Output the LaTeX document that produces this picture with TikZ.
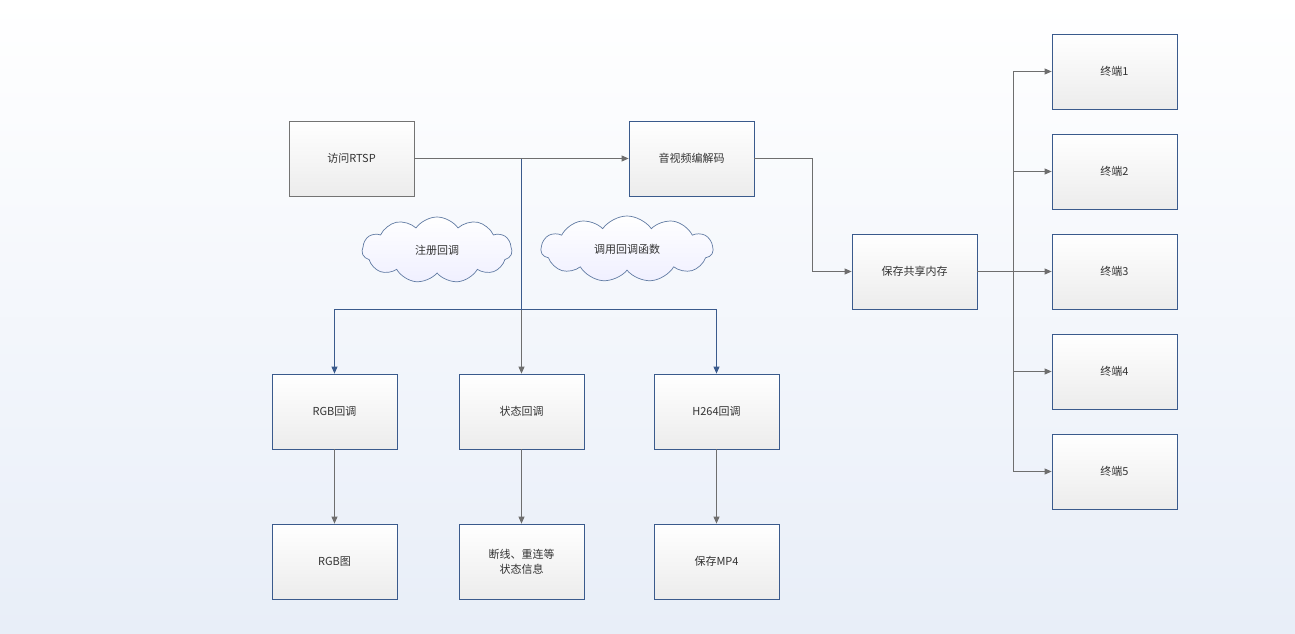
\documentclass[tikz,border=0pt]{standalone}
\usepackage{fontspec}
\setmainfont{Noto Sans CJK SC}
\usetikzlibrary{shapes.symbols,arrows.meta}
\definecolor{bord}{HTML}{3A5A8C}
\definecolor{ln}{HTML}{6E6E6E}
\begin{document}
\begin{tikzpicture}[x=1pt,y=-1pt,
  box/.style={draw=bord,line width=0.8pt,top color=white,bottom color=gray!15,minimum width=125pt,minimum height=75pt,inner sep=0pt,align=center,font=\fontsize{11}{15}\selectfont,text=black!80},
  cl/.style={cloud,cloud puffs=11,cloud puff arc=110,aspect=2.3,draw=bord!80,line width=0.7pt,top color=white,bottom color=blue!6,inner sep=0pt,font=\fontsize{11}{14}\selectfont,text=black!80},
  ar/.style={draw=ln,line width=0.8pt,-{Triangle[length=7pt,width=6pt]}},
  li/.style={draw=ln,line width=0.8pt},
  bl/.style={draw=bord,line width=0.8pt}]
\fill[top color=white,bottom color={rgb,255:red,232;green,238;blue,248}] (0,0) rectangle (1295,633);
\useasboundingbox (0,0) rectangle (1295,633);
\node[box,draw=gray!90!black] (rtsp) at (351.5,158.5) {访问RTSP};
\node[box] (codec) at (691.5,158.5) {音视频编解码};
\node[box] (mem) at (914.5,271.5) {保存共享内存};
\foreach \i/\y in {1/71.5,2/171.5,3/271.5,4/371.5,5/471.5}
  \node[box] (t\i) at (1114.5,\y) {终端\i};
\node[box] (rgb) at (334.5,411.5) {RGB回调};
\node[box] (st) at (521.5,411.5) {状态回调};
\node[box] (h) at (716.5,411.5) {H264回调};
\node[box] (rgbi) at (334.5,561.5) {RGB图};
\node[box] (sti) at (521.5,561.5) {断线、重连等\\状态信息};
\node[box] (mp4) at (716.5,561.5) {保存MP4};
\node[cl,minimum width=150pt,minimum height=66pt] (c1) at (437,250) {注册回调};
\node[cl,minimum width=172pt,minimum height=66pt] (c2) at (627,249) {调用回调函数};
\coordinate (j) at (521.5,158.5);
\coordinate (k) at (521.5,309);
\path[ar] (rtsp.east) -- (codec.west);
\path[bl] (j) -- (k);
\path[ar] (k) -- (st.north);
\path[bl,-{Triangle[length=7pt,width=6pt]}] (k) -| (rgb.north);
\path[bl,-{Triangle[length=7pt,width=6pt]}] (k) -| (h.north);
\coordinate (m1) at (812,158.5);
\path[ar] (codec.east) -- (m1) |- (mem.west);
\coordinate (sp) at (1013,271.5);
\path[li] (mem.east) -- (sp);
\foreach \i in {1,...,5} \path[ar] (sp) |- (t\i.west);
\path[ar] (rgb) -- (rgbi);
\path[ar] (st) -- (sti);
\path[ar] (h) -- (mp4);
\end{tikzpicture}
\end{document}
